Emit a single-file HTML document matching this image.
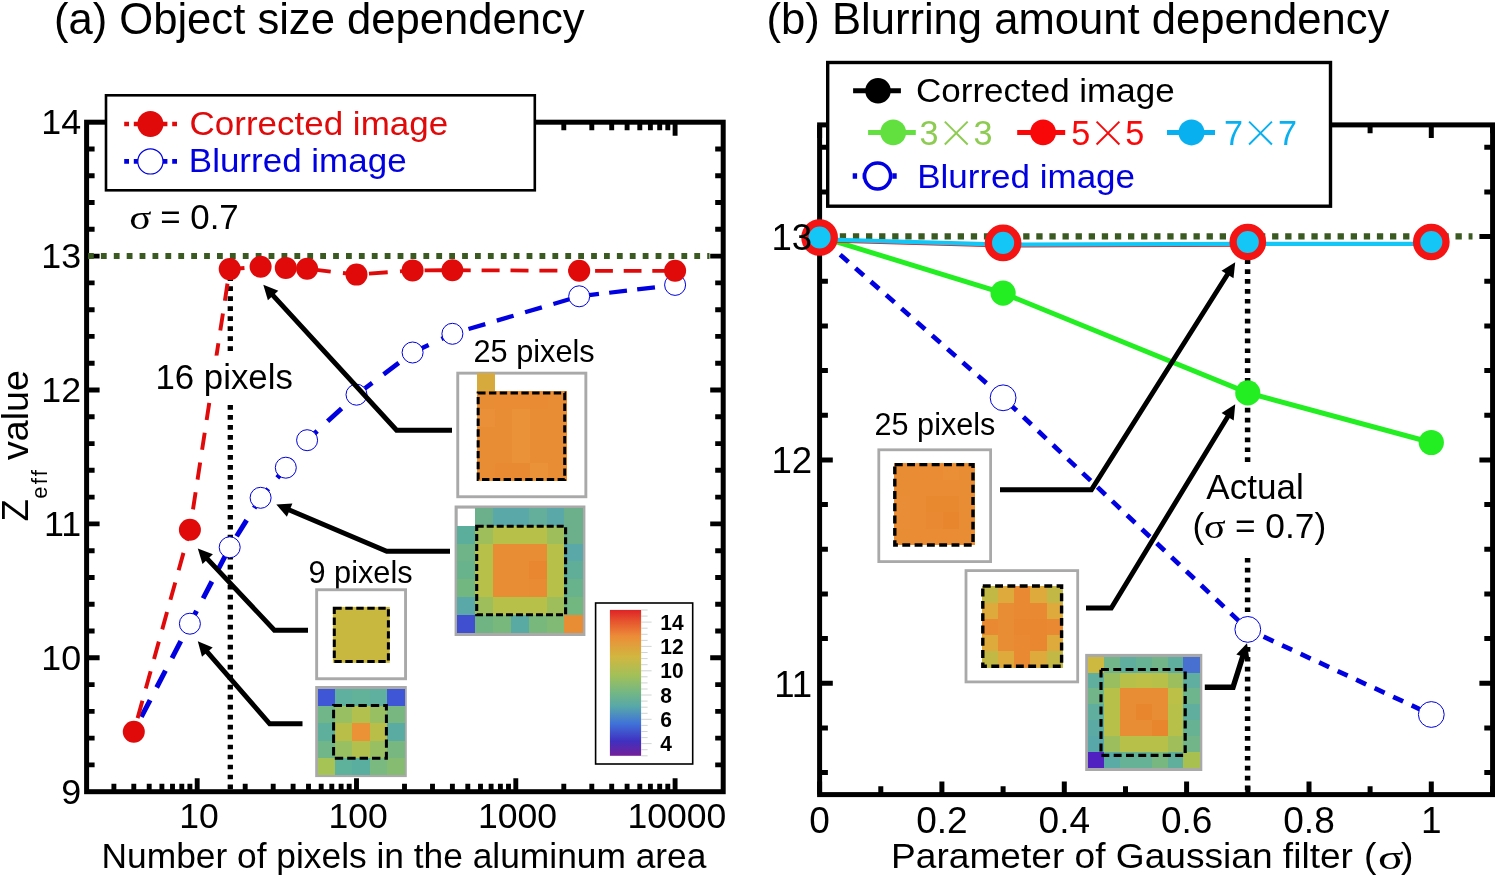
<!DOCTYPE html>
<html lang="en"><head><meta charset="utf-8"><title>Object size and blurring amount dependency</title>
<style>html,body{margin:0;padding:0;background:#fff;}body{width:1495px;height:877px;overflow:hidden;}svg{display:block;font-family:"Liberation Sans", Arial, Helvetica, sans-serif;}</style></head><body>
<svg width="1495" height="877" viewBox="0 0 1495 877">
<rect width="1495" height="877" fill="#fff"/>
<g id="panelA">
<text x="53.9" y="33.6" font-size="43.6" fill="#000" text-anchor="start">(a) Object size dependency</text>
<rect x="86.6" y="122.2" width="636.6" height="669.5" fill="none" stroke="#000" stroke-width="5.0"/>
<path d="M86.6 764.9h8.0 M723.2 764.9h-8.0 M86.6 738.1h8.0 M723.2 738.1h-8.0 M86.6 711.4h8.0 M723.2 711.4h-8.0 M86.6 684.6h8.0 M723.2 684.6h-8.0 M86.6 657.8h13.0 M723.2 657.8h-13.0 M86.6 631.0h8.0 M723.2 631.0h-8.0 M86.6 604.2h8.0 M723.2 604.2h-8.0 M86.6 577.5h8.0 M723.2 577.5h-8.0 M86.6 550.7h8.0 M723.2 550.7h-8.0 M86.6 523.9h13.0 M723.2 523.9h-13.0 M86.6 497.1h8.0 M723.2 497.1h-8.0 M86.6 470.3h8.0 M723.2 470.3h-8.0 M86.6 443.6h8.0 M723.2 443.6h-8.0 M86.6 416.8h8.0 M723.2 416.8h-8.0 M86.6 390.0h13.0 M723.2 390.0h-13.0 M86.6 363.2h8.0 M723.2 363.2h-8.0 M86.6 336.4h8.0 M723.2 336.4h-8.0 M86.6 309.7h8.0 M723.2 309.7h-8.0 M86.6 282.9h8.0 M723.2 282.9h-8.0 M86.6 256.1h13.0 M723.2 256.1h-13.0 M86.6 229.3h8.0 M723.2 229.3h-8.0 M86.6 202.5h8.0 M723.2 202.5h-8.0 M86.6 175.8h8.0 M723.2 175.8h-8.0 M86.6 149.0h8.0 M723.2 149.0h-8.0 M113.9 791.7v-8.0 M113.9 122.2v8.0 M133.8 791.7v-8.0 M133.8 122.2v8.0 M149.2 791.7v-8.0 M149.2 122.2v8.0 M161.9 791.7v-8.0 M161.9 122.2v8.0 M172.5 791.7v-8.0 M172.5 122.2v8.0 M181.8 791.7v-8.0 M181.8 122.2v8.0 M189.9 791.7v-8.0 M189.9 122.2v8.0 M197.2 791.7v-13.5 M197.2 122.2v13.5 M245.2 791.7v-8.0 M245.2 122.2v8.0 M273.2 791.7v-8.0 M273.2 122.2v8.0 M293.1 791.7v-8.0 M293.1 122.2v8.0 M308.5 791.7v-8.0 M308.5 122.2v8.0 M321.2 791.7v-8.0 M321.2 122.2v8.0 M331.8 791.7v-8.0 M331.8 122.2v8.0 M341.1 791.7v-8.0 M341.1 122.2v8.0 M349.2 791.7v-8.0 M349.2 122.2v8.0 M356.5 791.7v-13.5 M356.5 122.2v13.5 M404.5 791.7v-8.0 M404.5 122.2v8.0 M432.5 791.7v-8.0 M432.5 122.2v8.0 M452.4 791.7v-8.0 M452.4 122.2v8.0 M467.8 791.7v-8.0 M467.8 122.2v8.0 M480.5 791.7v-8.0 M480.5 122.2v8.0 M491.1 791.7v-8.0 M491.1 122.2v8.0 M500.4 791.7v-8.0 M500.4 122.2v8.0 M508.5 791.7v-8.0 M508.5 122.2v8.0 M515.8 791.7v-13.5 M515.8 122.2v13.5 M563.8 791.7v-8.0 M563.8 122.2v8.0 M591.8 791.7v-8.0 M591.8 122.2v8.0 M611.7 791.7v-8.0 M611.7 122.2v8.0 M627.1 791.7v-8.0 M627.1 122.2v8.0 M639.8 791.7v-8.0 M639.8 122.2v8.0 M650.4 791.7v-8.0 M650.4 122.2v8.0 M659.7 791.7v-8.0 M659.7 122.2v8.0 M667.8 791.7v-8.0 M667.8 122.2v8.0 M675.1 791.7v-13.5 M675.1 122.2v13.5" stroke="#000" stroke-width="4.9" fill="none"/>
<text x="81.1" y="803.9" font-size="35.8" fill="#000" text-anchor="end">9</text>
<text x="81.1" y="670.0" font-size="35.8" fill="#000" text-anchor="end">10</text>
<text x="81.1" y="536.1" font-size="35.8" fill="#000" text-anchor="end">11</text>
<text x="81.1" y="402.2" font-size="35.8" fill="#000" text-anchor="end">12</text>
<text x="81.1" y="268.3" font-size="35.8" fill="#000" text-anchor="end">13</text>
<text x="81.1" y="134.4" font-size="35.8" fill="#000" text-anchor="end">14</text>
<text x="198.9" y="828.0" font-size="35.5" fill="#000" text-anchor="middle">10</text>
<text x="358.2" y="828.0" font-size="35.5" fill="#000" text-anchor="middle">100</text>
<text x="517.5" y="828.0" font-size="35.5" fill="#000" text-anchor="middle">1000</text>
<text x="676.8" y="828.0" font-size="35.5" fill="#000" text-anchor="middle">10000</text>
<text x="101.6" y="867.9" font-size="35.35" fill="#000" text-anchor="start">Number of pixels in the aluminum area</text>
<text transform="translate(28.0,521.5) rotate(-90)" font-size="36.6">Z<tspan font-size="22" dy="19.3" dx="0.5" letter-spacing="2.2">eff</tspan><tspan dy="-19.3" dx="-2.5" font-size="37.6"> value</tspan></text>
<line x1="88.0" y1="256.1" x2="709.5" y2="256.1" stroke="#3b5a22" stroke-width="6" stroke-dasharray="5.8 7.1"/>
<line x1="230.3" y1="276.3" x2="230.3" y2="351" stroke="#000" stroke-width="5.3" stroke-dasharray="4.7 5.3"/>
<line x1="230.3" y1="405.0" x2="230.3" y2="791.7" stroke="#000" stroke-width="5.3" stroke-dasharray="4.7 5.29"/>
<line x1="133.8" y1="731.4" x2="189.9" y2="623.7" stroke="#0000e0" stroke-width="5.0" stroke-dasharray="19 14.2" stroke-dashoffset="16.9"/>
<line x1="189.9" y1="623.7" x2="229.7" y2="547.3" stroke="#0000e0" stroke-width="5.0" stroke-dasharray="19 14.2" stroke-dashoffset="4.6"/>
<line x1="229.7" y1="547.3" x2="260.6" y2="497.8" stroke="#0000e0" stroke-width="5.0" stroke-dasharray="19 14.2" stroke-dashoffset="20.2"/>
<line x1="260.6" y1="497.8" x2="285.8" y2="467.7" stroke="#0000e0" stroke-width="5.0" stroke-dasharray="19 14.2" stroke-dashoffset="7.2"/>
<line x1="285.8" y1="467.7" x2="307.1" y2="440.2" stroke="#0000e0" stroke-width="5.0" stroke-dasharray="19 14.2" stroke-dashoffset="8.2"/>
<line x1="307.1" y1="440.2" x2="356.5" y2="394.7" stroke="#0000e0" stroke-width="4.8" stroke-dasharray="19 14.2" stroke-dashoffset="5.3"/>
<line x1="356.5" y1="394.7" x2="412.6" y2="352.5" stroke="#0000e0" stroke-width="4.6" stroke-dasharray="19 14.2" stroke-dashoffset="32.5"/>
<line x1="412.6" y1="352.5" x2="452.4" y2="333.8" stroke="#0000e0" stroke-width="4.4" stroke-dasharray="19 14.2" stroke-dashoffset="1.3"/>
<line x1="452.4" y1="333.8" x2="579.2" y2="296.3" stroke="#0000e0" stroke-width="4.3" stroke-dasharray="17.5 12.0" stroke-dashoffset="12.7"/>
<line x1="579.2" y1="296.3" x2="675.1" y2="284.9" stroke="#0000e0" stroke-width="4.2" stroke-dasharray="17.9 10.3" stroke-dashoffset="26.2"/>
<line x1="133.8" y1="731.8" x2="189.9" y2="529.7" stroke="#e00a0a" stroke-width="3.9" stroke-dasharray="18 12.7" stroke-dashoffset="16.5"/>
<line x1="189.9" y1="529.7" x2="229.7" y2="269.1" stroke="#e00a0a" stroke-width="3.9" stroke-dasharray="17.3 12.85" stroke-dashoffset="9.6"/>
<line x1="229.7" y1="269.1" x2="260.6" y2="266.7" stroke="#e00a0a" stroke-width="3.9" stroke-dasharray="18.8 12.3" stroke-dashoffset="4.0"/>
<line x1="260.6" y1="266.7" x2="285.8" y2="267.9" stroke="#e00a0a" stroke-width="3.9" stroke-dasharray="18.8 12.3" stroke-dashoffset="16.1"/>
<line x1="285.8" y1="267.9" x2="307.1" y2="268.8" stroke="#e00a0a" stroke-width="3.9" stroke-dasharray="18.8 12.3" stroke-dashoffset="16.1"/>
<line x1="307.1" y1="268.8" x2="356.5" y2="274.6" stroke="#e00a0a" stroke-width="3.9" stroke-dasharray="18.8 12.3" stroke-dashoffset="26.1"/>
<line x1="356.5" y1="274.6" x2="412.6" y2="270.4" stroke="#e00a0a" stroke-width="3.9" stroke-dasharray="18.8 12.3" stroke-dashoffset="18.6"/>
<line x1="412.6" y1="270.4" x2="452.4" y2="270.2" stroke="#e00a0a" stroke-width="3.9" stroke-dasharray="18.8 12.3" stroke-dashoffset="19.1"/>
<line x1="452.4" y1="270.2" x2="579.2" y2="270.8" stroke="#e00a0a" stroke-width="3.7" stroke-dasharray="18 10.9" stroke-dashoffset="28.6"/>
<line x1="579.2" y1="270.8" x2="675.1" y2="270.8" stroke="#e00a0a" stroke-width="3.7" stroke-dasharray="17.8 10.8" stroke-dashoffset="12.7"/>
<rect x="152" y="355.6" width="146" height="46.6" fill="#fff"/>
<circle cx="189.9" cy="623.7" r="10.5" fill="#fff" stroke="#0000e0" stroke-width="1.0"/>
<circle cx="229.7" cy="547.3" r="10.5" fill="#fff" stroke="#0000e0" stroke-width="1.0"/>
<circle cx="260.6" cy="497.8" r="10.5" fill="#fff" stroke="#0000e0" stroke-width="1.0"/>
<circle cx="285.8" cy="467.7" r="10.5" fill="#fff" stroke="#0000e0" stroke-width="1.0"/>
<circle cx="307.1" cy="440.2" r="10.5" fill="#fff" stroke="#0000e0" stroke-width="1.0"/>
<circle cx="356.5" cy="394.7" r="10.5" fill="#fff" stroke="#0000e0" stroke-width="1.0"/>
<circle cx="412.6" cy="352.5" r="10.5" fill="#fff" stroke="#0000e0" stroke-width="1.0"/>
<circle cx="452.4" cy="333.8" r="10.5" fill="#fff" stroke="#0000e0" stroke-width="1.0"/>
<circle cx="579.2" cy="296.3" r="10.5" fill="#fff" stroke="#0000e0" stroke-width="1.0"/>
<circle cx="675.1" cy="284.9" r="10.5" fill="#fff" stroke="#0000e0" stroke-width="1.0"/>
<circle cx="133.8" cy="731.8" r="11.0" fill="#e00a0a"/>
<circle cx="189.9" cy="529.7" r="11.0" fill="#e00a0a"/>
<circle cx="229.7" cy="269.1" r="11.0" fill="#e00a0a"/>
<circle cx="260.6" cy="266.7" r="11.0" fill="#e00a0a"/>
<circle cx="285.8" cy="267.9" r="11.0" fill="#e00a0a"/>
<circle cx="307.1" cy="268.8" r="11.0" fill="#e00a0a"/>
<circle cx="356.5" cy="274.6" r="11.0" fill="#e00a0a"/>
<circle cx="412.6" cy="270.4" r="11.0" fill="#e00a0a"/>
<circle cx="452.4" cy="270.2" r="11.0" fill="#e00a0a"/>
<circle cx="579.2" cy="270.8" r="11.0" fill="#e00a0a"/>
<circle cx="675.1" cy="270.8" r="11.0" fill="#e00a0a"/>
<rect x="106" y="95.3" width="428.8" height="95" fill="#fff" stroke="#000" stroke-width="2.6"/>
<line x1="124.2" y1="124" x2="177" y2="124" stroke="#e00a0a" stroke-width="4.6" stroke-dasharray="4.8 4.8"/>
<circle cx="150.4" cy="124" r="13" fill="#e00a0a"/>
<line x1="124.2" y1="161.4" x2="177" y2="161.4" stroke="#0000e0" stroke-width="4.6" stroke-dasharray="4.8 4.8"/>
<circle cx="150.4" cy="161.4" r="12.6" fill="#fff" stroke="#0000e0" stroke-width="1.2"/>
<text transform="translate(189.5,134.9) scale(1.06,1)" font-size="33.02" fill="#e00a0a" text-anchor="start">Corrected image</text>
<text transform="translate(188.8,172.4) scale(1.06,1)" font-size="33.02" fill="#0000e0" text-anchor="start">Blurred image</text>
<text transform="translate(129.14,228.90) scale(1.263,1)" font-family='"Liberation Serif", "Times New Roman", serif' font-size="32.8">σ</text>
<text x="160.2" y="228.7" font-size="34.9" fill="#000" text-anchor="start">= 0.7</text>
<text x="155.5" y="388.5" font-size="34.8" fill="#000" text-anchor="start">16 pixels</text>
<text x="473.5" y="361.7" font-size="30.7" fill="#000" text-anchor="start">25 pixels</text>
<text x="308.5" y="583.0" font-size="30.7" fill="#000" text-anchor="start">9 pixels</text>
<polyline fill="none" stroke="#000" stroke-width="4.9" stroke-linejoin="miter" points="452.0,430.2 396.6,430.2 271.1,293.4"/>
<polygon fill="#000" points="263.3,284.8 278.3,290.7 267.9,300.3"/>
<polyline fill="none" stroke="#000" stroke-width="4.9" stroke-linejoin="miter" points="450.0,551.2 386.7,551.2 287.0,509.0"/>
<polygon fill="#000" points="276.3,504.5 292.4,503.6 286.9,516.7"/>
<polyline fill="none" stroke="#000" stroke-width="4.9" stroke-linejoin="miter" points="308.0,630.2 274.4,630.2 205.7,557.1"/>
<polygon fill="#000" points="197.8,548.6 212.9,554.3 202.5,564.0"/>
<polyline fill="none" stroke="#000" stroke-width="4.9" stroke-linejoin="miter" points="302.5,723.8 269.7,723.8 205.4,649.9"/>
<polygon fill="#000" points="197.8,641.2 212.7,647.5 202.0,656.8"/>
<rect x="457.75" y="373.15" width="128.10" height="123.60" fill="#fff" stroke="#a9a9a9" stroke-width="2.9"/>
<rect x="476.55" y="373.40" width="18.25" height="18.25" fill="#d6aa3c" shape-rendering="crispEdges"/>
<rect x="476.55" y="391.35" width="18.25" height="18.25" fill="#e98d35" shape-rendering="crispEdges"/>
<rect x="494.50" y="391.35" width="18.25" height="18.25" fill="#e98c33" shape-rendering="crispEdges"/>
<rect x="512.45" y="391.35" width="18.25" height="18.25" fill="#e98c33" shape-rendering="crispEdges"/>
<rect x="530.40" y="391.35" width="18.25" height="18.25" fill="#e88b33" shape-rendering="crispEdges"/>
<rect x="548.35" y="391.35" width="18.25" height="18.25" fill="#e98d35" shape-rendering="crispEdges"/>
<rect x="476.55" y="409.30" width="18.25" height="18.25" fill="#e99038" shape-rendering="crispEdges"/>
<rect x="494.50" y="409.30" width="18.25" height="18.25" fill="#e98d35" shape-rendering="crispEdges"/>
<rect x="512.45" y="409.30" width="18.25" height="18.25" fill="#ea9238" shape-rendering="crispEdges"/>
<rect x="530.40" y="409.30" width="18.25" height="18.25" fill="#e98d35" shape-rendering="crispEdges"/>
<rect x="548.35" y="409.30" width="18.25" height="18.25" fill="#e98d35" shape-rendering="crispEdges"/>
<rect x="476.55" y="427.25" width="18.25" height="18.25" fill="#e98d35" shape-rendering="crispEdges"/>
<rect x="494.50" y="427.25" width="18.25" height="18.25" fill="#e98d35" shape-rendering="crispEdges"/>
<rect x="512.45" y="427.25" width="18.25" height="18.25" fill="#ea9238" shape-rendering="crispEdges"/>
<rect x="530.40" y="427.25" width="18.25" height="18.25" fill="#e98d35" shape-rendering="crispEdges"/>
<rect x="548.35" y="427.25" width="18.25" height="18.25" fill="#e98d35" shape-rendering="crispEdges"/>
<rect x="476.55" y="445.20" width="18.25" height="18.25" fill="#e98d35" shape-rendering="crispEdges"/>
<rect x="494.50" y="445.20" width="18.25" height="18.25" fill="#e98d35" shape-rendering="crispEdges"/>
<rect x="512.45" y="445.20" width="18.25" height="18.25" fill="#ea9238" shape-rendering="crispEdges"/>
<rect x="530.40" y="445.20" width="18.25" height="18.25" fill="#e98d35" shape-rendering="crispEdges"/>
<rect x="548.35" y="445.20" width="18.25" height="18.25" fill="#e98d35" shape-rendering="crispEdges"/>
<rect x="476.55" y="463.15" width="18.25" height="18.25" fill="#e98d35" shape-rendering="crispEdges"/>
<rect x="494.50" y="463.15" width="18.25" height="18.25" fill="#e88a32" shape-rendering="crispEdges"/>
<rect x="512.45" y="463.15" width="18.25" height="18.25" fill="#e88a32" shape-rendering="crispEdges"/>
<rect x="530.40" y="463.15" width="18.25" height="18.25" fill="#ea9238" shape-rendering="crispEdges"/>
<rect x="548.35" y="463.15" width="18.25" height="18.25" fill="#e98d35" shape-rendering="crispEdges"/>
<rect x="478.15" y="392.95" width="86.55" height="86.55" fill="none" stroke="#000" stroke-width="3.0" stroke-dasharray="7.4 3.4"/>
<rect x="456.15" y="507.05" width="127.70" height="127.40" fill="#fff" stroke="#a9a9a9" stroke-width="3.1"/>
<rect x="474.90" y="507.70" width="18.20" height="18.20" fill="#6bb08a" shape-rendering="crispEdges"/>
<rect x="492.80" y="507.70" width="18.20" height="18.20" fill="#5aa8a8" shape-rendering="crispEdges"/>
<rect x="510.70" y="507.70" width="18.20" height="18.20" fill="#5aa8a8" shape-rendering="crispEdges"/>
<rect x="528.60" y="507.70" width="18.20" height="18.20" fill="#64ae9c" shape-rendering="crispEdges"/>
<rect x="546.50" y="507.70" width="18.20" height="18.20" fill="#5aa8a8" shape-rendering="crispEdges"/>
<rect x="564.40" y="507.70" width="18.20" height="18.20" fill="#6bb08a" shape-rendering="crispEdges"/>
<rect x="457.00" y="525.60" width="18.20" height="18.20" fill="#5cae9c" shape-rendering="crispEdges"/>
<rect x="474.90" y="525.60" width="18.20" height="18.20" fill="#9dbe5a" shape-rendering="crispEdges"/>
<rect x="492.80" y="525.60" width="18.20" height="18.20" fill="#b7c048" shape-rendering="crispEdges"/>
<rect x="510.70" y="525.60" width="18.20" height="18.20" fill="#b7c048" shape-rendering="crispEdges"/>
<rect x="528.60" y="525.60" width="18.20" height="18.20" fill="#b7c048" shape-rendering="crispEdges"/>
<rect x="546.50" y="525.60" width="18.20" height="18.20" fill="#9dbe5a" shape-rendering="crispEdges"/>
<rect x="564.40" y="525.60" width="18.20" height="18.20" fill="#6bb08a" shape-rendering="crispEdges"/>
<rect x="457.00" y="543.50" width="18.20" height="18.20" fill="#6eb488" shape-rendering="crispEdges"/>
<rect x="474.90" y="543.50" width="18.20" height="18.20" fill="#b7c048" shape-rendering="crispEdges"/>
<rect x="492.80" y="543.50" width="18.20" height="18.20" fill="#e98d35" shape-rendering="crispEdges"/>
<rect x="510.70" y="543.50" width="18.20" height="18.20" fill="#e98d35" shape-rendering="crispEdges"/>
<rect x="528.60" y="543.50" width="18.20" height="18.20" fill="#e98d35" shape-rendering="crispEdges"/>
<rect x="546.50" y="543.50" width="18.20" height="18.20" fill="#b7c048" shape-rendering="crispEdges"/>
<rect x="564.40" y="543.50" width="18.20" height="18.20" fill="#5aa8a8" shape-rendering="crispEdges"/>
<rect x="457.00" y="561.40" width="18.20" height="18.20" fill="#68b28c" shape-rendering="crispEdges"/>
<rect x="474.90" y="561.40" width="18.20" height="18.20" fill="#b7c048" shape-rendering="crispEdges"/>
<rect x="492.80" y="561.40" width="18.20" height="18.20" fill="#e98d35" shape-rendering="crispEdges"/>
<rect x="510.70" y="561.40" width="18.20" height="18.20" fill="#e98d35" shape-rendering="crispEdges"/>
<rect x="528.60" y="561.40" width="18.20" height="18.20" fill="#e8872f" shape-rendering="crispEdges"/>
<rect x="546.50" y="561.40" width="18.20" height="18.20" fill="#b7c048" shape-rendering="crispEdges"/>
<rect x="564.40" y="561.40" width="18.20" height="18.20" fill="#60ae98" shape-rendering="crispEdges"/>
<rect x="457.00" y="579.30" width="18.20" height="18.20" fill="#72b680" shape-rendering="crispEdges"/>
<rect x="474.90" y="579.30" width="18.20" height="18.20" fill="#b7c048" shape-rendering="crispEdges"/>
<rect x="492.80" y="579.30" width="18.20" height="18.20" fill="#e98d35" shape-rendering="crispEdges"/>
<rect x="510.70" y="579.30" width="18.20" height="18.20" fill="#e98d35" shape-rendering="crispEdges"/>
<rect x="528.60" y="579.30" width="18.20" height="18.20" fill="#e98b33" shape-rendering="crispEdges"/>
<rect x="546.50" y="579.30" width="18.20" height="18.20" fill="#b7c048" shape-rendering="crispEdges"/>
<rect x="564.40" y="579.30" width="18.20" height="18.20" fill="#68b28c" shape-rendering="crispEdges"/>
<rect x="457.00" y="597.20" width="18.20" height="18.20" fill="#5aa8a8" shape-rendering="crispEdges"/>
<rect x="474.90" y="597.20" width="18.20" height="18.20" fill="#9dbe5a" shape-rendering="crispEdges"/>
<rect x="492.80" y="597.20" width="18.20" height="18.20" fill="#b7c048" shape-rendering="crispEdges"/>
<rect x="510.70" y="597.20" width="18.20" height="18.20" fill="#b7c048" shape-rendering="crispEdges"/>
<rect x="528.60" y="597.20" width="18.20" height="18.20" fill="#b7c048" shape-rendering="crispEdges"/>
<rect x="546.50" y="597.20" width="18.20" height="18.20" fill="#9dbe5a" shape-rendering="crispEdges"/>
<rect x="564.40" y="597.20" width="18.20" height="18.20" fill="#72b680" shape-rendering="crispEdges"/>
<rect x="457.00" y="615.10" width="18.20" height="18.20" fill="#3f4fd0" shape-rendering="crispEdges"/>
<rect x="474.90" y="615.10" width="18.20" height="18.20" fill="#70b484" shape-rendering="crispEdges"/>
<rect x="492.80" y="615.10" width="18.20" height="18.20" fill="#78b87c" shape-rendering="crispEdges"/>
<rect x="510.70" y="615.10" width="18.20" height="18.20" fill="#5aaaa4" shape-rendering="crispEdges"/>
<rect x="528.60" y="615.10" width="18.20" height="18.20" fill="#78b87c" shape-rendering="crispEdges"/>
<rect x="546.50" y="615.10" width="18.20" height="18.20" fill="#80ba74" shape-rendering="crispEdges"/>
<rect x="564.40" y="615.10" width="18.20" height="18.20" fill="#e98d35" shape-rendering="crispEdges"/>
<rect x="476.70" y="526.20" width="88.90" height="88.50" fill="none" stroke="#000" stroke-width="3.1" stroke-dasharray="7 3"/>
<rect x="316.65" y="589.75" width="88.90" height="89.00" fill="#fff" stroke="#a9a9a9" stroke-width="2.9"/>
<rect x="332.9" y="606.9" width="56.9" height="56" fill="#c8b840"/>
<rect x="334.30" y="608.30" width="54.10" height="53.20" fill="none" stroke="#000" stroke-width="3.0" stroke-dasharray="7.4 3.6"/>
<rect x="316.75" y="687.55" width="88.50" height="88.00" fill="#fff" stroke="#a9a9a9" stroke-width="3.1"/>
<rect x="317.80" y="688.60" width="17.60" height="17.60" fill="#3f57d6" shape-rendering="crispEdges"/>
<rect x="335.10" y="688.60" width="17.60" height="17.60" fill="#5fb09e" shape-rendering="crispEdges"/>
<rect x="352.40" y="688.60" width="17.60" height="17.60" fill="#62b29a" shape-rendering="crispEdges"/>
<rect x="369.70" y="688.60" width="17.60" height="17.60" fill="#5fb09e" shape-rendering="crispEdges"/>
<rect x="387.00" y="688.60" width="17.60" height="17.60" fill="#3f57d6" shape-rendering="crispEdges"/>
<rect x="317.80" y="705.90" width="17.60" height="17.60" fill="#70b688" shape-rendering="crispEdges"/>
<rect x="335.10" y="705.90" width="17.60" height="17.60" fill="#98c062" shape-rendering="crispEdges"/>
<rect x="352.40" y="705.90" width="17.60" height="17.60" fill="#b2c04e" shape-rendering="crispEdges"/>
<rect x="369.70" y="705.90" width="17.60" height="17.60" fill="#98c062" shape-rendering="crispEdges"/>
<rect x="387.00" y="705.90" width="17.60" height="17.60" fill="#78b880" shape-rendering="crispEdges"/>
<rect x="317.80" y="723.20" width="17.60" height="17.60" fill="#5eb09c" shape-rendering="crispEdges"/>
<rect x="335.10" y="723.20" width="17.60" height="17.60" fill="#b8be48" shape-rendering="crispEdges"/>
<rect x="352.40" y="723.20" width="17.60" height="17.60" fill="#ec9236" shape-rendering="crispEdges"/>
<rect x="369.70" y="723.20" width="17.60" height="17.60" fill="#b8be48" shape-rendering="crispEdges"/>
<rect x="387.00" y="723.20" width="17.60" height="17.60" fill="#5aaca2" shape-rendering="crispEdges"/>
<rect x="317.80" y="740.50" width="17.60" height="17.60" fill="#70b688" shape-rendering="crispEdges"/>
<rect x="335.10" y="740.50" width="17.60" height="17.60" fill="#98c062" shape-rendering="crispEdges"/>
<rect x="352.40" y="740.50" width="17.60" height="17.60" fill="#b2c04e" shape-rendering="crispEdges"/>
<rect x="369.70" y="740.50" width="17.60" height="17.60" fill="#98c062" shape-rendering="crispEdges"/>
<rect x="387.00" y="740.50" width="17.60" height="17.60" fill="#78b880" shape-rendering="crispEdges"/>
<rect x="317.80" y="757.80" width="17.60" height="17.60" fill="#a6c456" shape-rendering="crispEdges"/>
<rect x="335.10" y="757.80" width="17.60" height="17.60" fill="#5eb29c" shape-rendering="crispEdges"/>
<rect x="352.40" y="757.80" width="17.60" height="17.60" fill="#5aaea0" shape-rendering="crispEdges"/>
<rect x="369.70" y="757.80" width="17.60" height="17.60" fill="#7aba80" shape-rendering="crispEdges"/>
<rect x="387.00" y="757.80" width="17.60" height="17.60" fill="#86bc72" shape-rendering="crispEdges"/>
<rect x="333.60" y="705.40" width="52.80" height="52.80" fill="none" stroke="#000" stroke-width="3.0" stroke-dasharray="8.4 4"/>
<defs><linearGradient id="cb" x1="0" y1="0" x2="0" y2="1"><stop offset="0" stop-color="#df2326"/><stop offset="0.08" stop-color="#e6552e"/><stop offset="0.18" stop-color="#ec8c38"/><stop offset="0.32" stop-color="#d2b640"/><stop offset="0.45" stop-color="#a2c058"/><stop offset="0.57" stop-color="#72b686"/><stop offset="0.66" stop-color="#58a8a8"/><stop offset="0.78" stop-color="#4072d8"/><stop offset="0.90" stop-color="#4030c0"/><stop offset="1" stop-color="#74209a"/></linearGradient></defs>
<rect x="595.6" y="603" width="97.1" height="161" fill="#fff" stroke="#000" stroke-width="1.6"/>
<rect x="609.9" y="609.9" width="31.2" height="145.9" fill="url(#cb)"/>
<path d="M641.1 755.8h6.5 M641.1 749.7h6.5 M641.1 743.6h10.5 M641.1 737.6h6.5 M641.1 731.5h6.5 M641.1 725.4h6.5 M641.1 719.3h10.5 M641.1 713.3h6.5 M641.1 707.2h6.5 M641.1 701.1h6.5 M641.1 695.0h10.5 M641.1 689.0h6.5 M641.1 682.9h6.5 M641.1 676.8h6.5 M641.1 670.8h10.5 M641.1 664.7h6.5 M641.1 658.6h6.5 M641.1 652.5h6.5 M641.1 646.4h10.5 M641.1 640.4h6.5 M641.1 634.3h6.5 M641.1 628.2h6.5 M641.1 622.1h10.5 M641.1 616.1h6.5 M641.1 610.0h6.5" stroke="#c4c8c8" stroke-width="0.8" fill="none"/>
<text transform="translate(660.3,629.9) scale(0.945,1)" font-size="22.2" font-weight="bold">14</text>
<text transform="translate(660.3,654.1) scale(0.945,1)" font-size="22.2" font-weight="bold">12</text>
<text transform="translate(660.3,678.4) scale(0.945,1)" font-size="22.2" font-weight="bold">10</text>
<text transform="translate(660.3,702.6) scale(0.945,1)" font-size="22.2" font-weight="bold">8</text>
<text transform="translate(660.3,726.9) scale(0.945,1)" font-size="22.2" font-weight="bold">6</text>
<text transform="translate(660.3,751.1) scale(0.945,1)" font-size="22.2" font-weight="bold">4</text>
</g>
<g id="panelB">
<text x="766.5" y="33.6" font-size="43.6" fill="#000" text-anchor="start">(b) Blurring amount dependency</text>
<rect x="819.6" y="124.9" width="673.0" height="669.7" fill="none" stroke="#000" stroke-width="5.0"/>
<path d="M819.6 772.5h8.3 M1492.6 772.5h-8.3 M819.6 727.9h8.3 M1492.6 727.9h-8.3 M819.6 683.2h13.2 M1492.6 683.2h-13.2 M819.6 638.5h8.3 M1492.6 638.5h-8.3 M819.6 593.9h8.3 M1492.6 593.9h-8.3 M819.6 549.2h8.3 M1492.6 549.2h-8.3 M819.6 504.6h8.3 M1492.6 504.6h-8.3 M819.6 459.9h13.2 M1492.6 459.9h-13.2 M819.6 415.2h8.3 M1492.6 415.2h-8.3 M819.6 370.6h8.3 M1492.6 370.6h-8.3 M819.6 325.9h8.3 M1492.6 325.9h-8.3 M819.6 281.3h8.3 M1492.6 281.3h-8.3 M819.6 236.6h13.2 M1492.6 236.6h-13.2 M819.6 191.9h8.3 M1492.6 191.9h-8.3 M819.6 147.3h8.3 M1492.6 147.3h-8.3 M819.6 794.6v-13.2 M819.6 124.9v13.2 M880.8 794.6v-8.3 M880.8 124.9v8.3 M941.9 794.6v-13.2 M941.9 124.9v13.2 M1003.1 794.6v-8.3 M1003.1 124.9v8.3 M1064.3 794.6v-13.2 M1064.3 124.9v13.2 M1125.5 794.6v-8.3 M1125.5 124.9v8.3 M1186.6 794.6v-13.2 M1186.6 124.9v13.2 M1247.8 794.6v-8.3 M1247.8 124.9v8.3 M1309.0 794.6v-13.2 M1309.0 124.9v13.2 M1370.1 794.6v-8.3 M1370.1 124.9v8.3 M1431.3 794.6v-13.2 M1431.3 124.9v13.2 M1492.5 794.6v-8.3 M1492.5 124.9v8.3" stroke="#000" stroke-width="5.0" fill="none"/>
<text x="812.2" y="696.5" font-size="36.6" fill="#000" text-anchor="end">11</text>
<text x="812.2" y="473.2" font-size="36.6" fill="#000" text-anchor="end">12</text>
<text x="819.6" y="832.6" font-size="37" fill="#000" text-anchor="middle">0</text>
<text x="941.9" y="832.6" font-size="37" fill="#000" text-anchor="middle">0.2</text>
<text x="1064.3" y="832.6" font-size="37" fill="#000" text-anchor="middle">0.4</text>
<text x="1186.6" y="832.6" font-size="37" fill="#000" text-anchor="middle">0.6</text>
<text x="1309.0" y="832.6" font-size="37" fill="#000" text-anchor="middle">0.8</text>
<text x="1431.3" y="832.6" font-size="37" fill="#000" text-anchor="middle">1</text>
<text transform="translate(891.1,868.3) scale(1.055,1)" font-size="35.17" fill="#000" text-anchor="start">Parameter of Gaussian filter</text>
<text transform="translate(1364.0,868.3) scale(1.055,1)" font-size="35.45" fill="#000" text-anchor="start">(</text>
<text transform="translate(1378.10,868.70) scale(1.422,1)" font-family='"Liberation Serif", "Times New Roman", serif' font-size="33.4">σ</text>
<text transform="translate(1401.0,868.3) scale(1.055,1)" font-size="35.45" fill="#000" text-anchor="start">)</text>
<line x1="826.7" y1="236.4" x2="1472.5" y2="236.4" stroke="#3b5a22" stroke-width="6.2" stroke-dasharray="6.3 6.8"/>
<line x1="1247.6" y1="259.3" x2="1247.6" y2="462.2" stroke="#000" stroke-width="5.5" stroke-dasharray="4.7 5.2"/>
<line x1="1247.6" y1="557.9" x2="1247.6" y2="794.6" stroke="#000" stroke-width="5.5" stroke-dasharray="4.7 5.2"/>
<polyline points="819.6,236.6 1003.1,397.8 1247.8,629.4 1431.3,714.5" fill="none" stroke="#0000e0" stroke-width="4.7" stroke-dasharray="11 9.4" stroke-dashoffset="-7"/>
<polyline points="819.6,236.6 1003.1,293.1 1247.8,392.9 1431.3,442.5" fill="none" stroke="#22ee22" stroke-width="5.0"/>
<polyline points="819.6,237.5 1003.1,242.9 1247.8,242.0" fill="none" stroke="#f01414" stroke-width="4.0" transform="translate(0,2.7)"/>
<polyline points="819.6,237.5 1003.1,242.9 1247.8,242.0 1431.3,242.0" fill="none" stroke="#14c6f5" stroke-width="4.3" transform="translate(0,1.8)"/>
<circle cx="1003.1" cy="397.8" r="12.9" fill="#fff" stroke="#0000e0" stroke-width="1.0"/>
<circle cx="1247.8" cy="629.4" r="12.9" fill="#fff" stroke="#0000e0" stroke-width="1.0"/>
<circle cx="1431.3" cy="714.5" r="12.9" fill="#fff" stroke="#0000e0" stroke-width="1.0"/>
<circle cx="1003.1" cy="293.1" r="12.6" fill="#22ee22"/>
<circle cx="1247.8" cy="392.9" r="12.6" fill="#22ee22"/>
<circle cx="1431.3" cy="442.5" r="12.6" fill="#22ee22"/>
<polyline fill="none" stroke="#000" stroke-width="4.9" stroke-linejoin="miter" points="1000.0,489.8 1091.4,489.8 1229.0,272.0"/>
<polygon fill="#000" points="1235.2,262.2 1233.5,278.3 1221.5,270.7"/>
<polyline fill="none" stroke="#000" stroke-width="4.9" stroke-linejoin="miter" points="1086.0,608.0 1111.3,608.0 1229.2,414.2"/>
<polygon fill="#000" points="1235.2,404.3 1233.7,420.4 1221.6,413.0"/>
<polyline fill="none" stroke="#000" stroke-width="5.4" stroke-linejoin="miter" points="1204.8,687.2 1233.0,687.2 1243.6,653.9"/>
<polygon fill="#000" points="1247.0,643.2 1249.2,658.6 1236.3,654.5"/>
<circle cx="819.6" cy="237.5" r="14.7" fill="#14c6f5" stroke="#f51414" stroke-width="7.3"/>
<circle cx="1003.1" cy="242.9" r="14.7" fill="#14c6f5" stroke="#f51414" stroke-width="7.3"/>
<circle cx="1247.8" cy="242.0" r="14.7" fill="#14c6f5" stroke="#f51414" stroke-width="7.3"/>
<circle cx="1431.3" cy="242.0" r="14.7" fill="#14c6f5" stroke="#f51414" stroke-width="7.3"/>
<text x="812.2" y="250.1" font-size="36.6" fill="#000" text-anchor="end">13</text>
<rect x="827.7" y="62.5" width="502.8" height="143.7" fill="#fff" stroke="#000" stroke-width="3.4"/>
<line x1="853.1" y1="90.7" x2="900.9" y2="90.7" stroke="#000" stroke-width="5"/><circle cx="878" cy="90.7" r="12.8" fill="#000"/>
<text transform="translate(916.0,101.6) scale(1.065,1)" font-size="32.86" fill="#000" text-anchor="start">Corrected image</text>
<line x1="868.1" y1="132.4" x2="915.8" y2="132.4" stroke="#62e040" stroke-width="5"/><circle cx="893.2" cy="132.4" r="12.9" fill="#62e040"/>
<text x="919.5" y="144.6" font-size="34.2" fill="#8ecb52">3<tspan font-family='"Noto Sans CJK JP", IPAGothic, sans-serif' font-weight="300" font-size="38" dx="-1.3" dy="2.2">×</tspan><tspan dx="-1.7" dy="-2.2">3</tspan></text>
<line x1="1017.2" y1="132.4" x2="1065.2" y2="132.4" stroke="#f80808" stroke-width="5"/><circle cx="1043.1" cy="132.4" r="12.9" fill="#f80808"/>
<text x="1071.3" y="144.6" font-size="34.2" fill="#f80808">5<tspan font-family='"Noto Sans CJK JP", IPAGothic, sans-serif' font-weight="300" font-size="38" dx="-1.3" dy="2.2">×</tspan><tspan dx="-1.7" dy="-2.2">5</tspan></text>
<line x1="1167" y1="132.4" x2="1215" y2="132.4" stroke="#08b0f0" stroke-width="5"/><circle cx="1191.5" cy="132.4" r="13" fill="#08b0f0"/>
<text x="1223.9" y="144.6" font-size="34.2" fill="#08b0f0">7<tspan font-family='"Noto Sans CJK JP", IPAGothic, sans-serif' font-weight="300" font-size="38" dx="-1.3" dy="2.2">×</tspan><tspan dx="-1.7" dy="-2.2">7</tspan></text>
<line x1="852.7" y1="176" x2="896.8" y2="176" stroke="#0000e0" stroke-width="5.4" stroke-dasharray="4.4 5.5"/>
<circle cx="877.6" cy="176" r="13.0" fill="#fff" stroke="#0000e0" stroke-width="3.5"/>
<text transform="translate(917.2,187.5) scale(1.065,1)" font-size="32.86" fill="#0000e0" text-anchor="start">Blurred image</text>
<text x="874.6" y="435.0" font-size="30.6" fill="#000" text-anchor="start">25 pixels</text>
<text x="1206.3" y="499.0" font-size="35.1" fill="#000" text-anchor="start">Actual</text>
<text x="1192.4" y="537.9" font-size="35.2" fill="#000" text-anchor="start">(</text>
<text transform="translate(1203.67,538.20) scale(1.244,1)" font-family='"Liberation Serif", "Times New Roman", serif' font-size="32.8">σ</text>
<text x="1234.9" y="537.9" font-size="35.3" fill="#000" text-anchor="start">= 0.7)</text>
<rect x="878.80" y="449.80" width="111.80" height="111.80" fill="#fff" stroke="#a9a9a9" stroke-width="2.8"/>
<rect x="893.60" y="463.40" width="16.60" height="16.60" fill="#e98d35" shape-rendering="crispEdges"/>
<rect x="909.90" y="463.40" width="16.60" height="16.60" fill="#e98c33" shape-rendering="crispEdges"/>
<rect x="926.20" y="463.40" width="16.60" height="16.60" fill="#e98c33" shape-rendering="crispEdges"/>
<rect x="942.50" y="463.40" width="16.60" height="16.60" fill="#ea8f36" shape-rendering="crispEdges"/>
<rect x="958.80" y="463.40" width="16.60" height="16.60" fill="#e98d35" shape-rendering="crispEdges"/>
<rect x="893.60" y="479.70" width="16.60" height="16.60" fill="#e98d35" shape-rendering="crispEdges"/>
<rect x="909.90" y="479.70" width="16.60" height="16.60" fill="#e98c33" shape-rendering="crispEdges"/>
<rect x="926.20" y="479.70" width="16.60" height="16.60" fill="#e98c33" shape-rendering="crispEdges"/>
<rect x="942.50" y="479.70" width="16.60" height="16.60" fill="#e98c33" shape-rendering="crispEdges"/>
<rect x="958.80" y="479.70" width="16.60" height="16.60" fill="#e98d35" shape-rendering="crispEdges"/>
<rect x="893.60" y="496.00" width="16.60" height="16.60" fill="#e98e36" shape-rendering="crispEdges"/>
<rect x="909.90" y="496.00" width="16.60" height="16.60" fill="#e98c33" shape-rendering="crispEdges"/>
<rect x="926.20" y="496.00" width="16.60" height="16.60" fill="#e8882f" shape-rendering="crispEdges"/>
<rect x="942.50" y="496.00" width="16.60" height="16.60" fill="#e8882f" shape-rendering="crispEdges"/>
<rect x="958.80" y="496.00" width="16.60" height="16.60" fill="#e98d35" shape-rendering="crispEdges"/>
<rect x="893.60" y="512.30" width="16.60" height="16.60" fill="#e98e36" shape-rendering="crispEdges"/>
<rect x="909.90" y="512.30" width="16.60" height="16.60" fill="#e98c33" shape-rendering="crispEdges"/>
<rect x="926.20" y="512.30" width="16.60" height="16.60" fill="#e98a32" shape-rendering="crispEdges"/>
<rect x="942.50" y="512.30" width="16.60" height="16.60" fill="#e8862e" shape-rendering="crispEdges"/>
<rect x="958.80" y="512.30" width="16.60" height="16.60" fill="#e98d35" shape-rendering="crispEdges"/>
<rect x="893.60" y="528.60" width="16.60" height="16.60" fill="#e98d35" shape-rendering="crispEdges"/>
<rect x="909.90" y="528.60" width="16.60" height="16.60" fill="#e98c33" shape-rendering="crispEdges"/>
<rect x="926.20" y="528.60" width="16.60" height="16.60" fill="#e98c33" shape-rendering="crispEdges"/>
<rect x="942.50" y="528.60" width="16.60" height="16.60" fill="#e98c33" shape-rendering="crispEdges"/>
<rect x="958.80" y="528.60" width="16.60" height="16.60" fill="#e98d35" shape-rendering="crispEdges"/>
<rect x="894.80" y="464.60" width="78.20" height="80.40" fill="none" stroke="#000" stroke-width="3.4" stroke-dasharray="7.9 4.4"/>
<rect x="966.00" y="570.60" width="111.70" height="111.30" fill="#fff" stroke="#a9a9a9" stroke-width="2.8"/>
<rect x="981.70" y="586.30" width="16.50" height="16.50" fill="#c2b845" shape-rendering="crispEdges"/>
<rect x="997.90" y="586.30" width="16.50" height="16.50" fill="#deaa3c" shape-rendering="crispEdges"/>
<rect x="1014.10" y="586.30" width="16.50" height="16.50" fill="#e98a32" shape-rendering="crispEdges"/>
<rect x="1030.30" y="586.30" width="16.50" height="16.50" fill="#deaa3c" shape-rendering="crispEdges"/>
<rect x="1046.50" y="586.30" width="16.50" height="16.50" fill="#c2b845" shape-rendering="crispEdges"/>
<rect x="981.70" y="602.50" width="16.50" height="16.50" fill="#deaa3c" shape-rendering="crispEdges"/>
<rect x="997.90" y="602.50" width="16.50" height="16.50" fill="#e98d35" shape-rendering="crispEdges"/>
<rect x="1014.10" y="602.50" width="16.50" height="16.50" fill="#e98a32" shape-rendering="crispEdges"/>
<rect x="1030.30" y="602.50" width="16.50" height="16.50" fill="#e98a32" shape-rendering="crispEdges"/>
<rect x="1046.50" y="602.50" width="16.50" height="16.50" fill="#deaa3c" shape-rendering="crispEdges"/>
<rect x="981.70" y="618.70" width="16.50" height="16.50" fill="#e98a32" shape-rendering="crispEdges"/>
<rect x="997.90" y="618.70" width="16.50" height="16.50" fill="#e98d35" shape-rendering="crispEdges"/>
<rect x="1014.10" y="618.70" width="16.50" height="16.50" fill="#e8872f" shape-rendering="crispEdges"/>
<rect x="1030.30" y="618.70" width="16.50" height="16.50" fill="#e8872f" shape-rendering="crispEdges"/>
<rect x="1046.50" y="618.70" width="16.50" height="16.50" fill="#e98a32" shape-rendering="crispEdges"/>
<rect x="981.70" y="634.90" width="16.50" height="16.50" fill="#deaa3c" shape-rendering="crispEdges"/>
<rect x="997.90" y="634.90" width="16.50" height="16.50" fill="#e98d35" shape-rendering="crispEdges"/>
<rect x="1014.10" y="634.90" width="16.50" height="16.50" fill="#e98a32" shape-rendering="crispEdges"/>
<rect x="1030.30" y="634.90" width="16.50" height="16.50" fill="#e8872f" shape-rendering="crispEdges"/>
<rect x="1046.50" y="634.90" width="16.50" height="16.50" fill="#deaa3c" shape-rendering="crispEdges"/>
<rect x="981.70" y="651.10" width="16.50" height="16.50" fill="#c2b845" shape-rendering="crispEdges"/>
<rect x="997.90" y="651.10" width="16.50" height="16.50" fill="#deaa3c" shape-rendering="crispEdges"/>
<rect x="1014.10" y="651.10" width="16.50" height="16.50" fill="#e98a32" shape-rendering="crispEdges"/>
<rect x="1030.30" y="651.10" width="16.50" height="16.50" fill="#deaa3c" shape-rendering="crispEdges"/>
<rect x="1046.50" y="651.10" width="16.50" height="16.50" fill="#c2b845" shape-rendering="crispEdges"/>
<rect x="982.80" y="586.00" width="78.80" height="80.20" fill="none" stroke="#000" stroke-width="3.4" stroke-dasharray="7.9 4.4"/>
<rect x="1086.80" y="655.50" width="113.90" height="113.90" fill="#fff" stroke="#a9a9a9" stroke-width="3.2"/>
<rect x="1087.90" y="656.60" width="16.23" height="16.23" fill="#cdb93f" shape-rendering="crispEdges"/>
<rect x="1103.83" y="656.60" width="16.23" height="16.23" fill="#72b588" shape-rendering="crispEdges"/>
<rect x="1119.76" y="656.60" width="16.23" height="16.23" fill="#5fae9e" shape-rendering="crispEdges"/>
<rect x="1135.69" y="656.60" width="16.23" height="16.23" fill="#68b294" shape-rendering="crispEdges"/>
<rect x="1151.62" y="656.60" width="16.23" height="16.23" fill="#72b588" shape-rendering="crispEdges"/>
<rect x="1167.55" y="656.60" width="16.23" height="16.23" fill="#5fae9e" shape-rendering="crispEdges"/>
<rect x="1183.48" y="656.60" width="16.23" height="16.23" fill="#4870d0" shape-rendering="crispEdges"/>
<rect x="1087.90" y="672.53" width="16.23" height="16.23" fill="#5fae9e" shape-rendering="crispEdges"/>
<rect x="1103.83" y="672.53" width="16.23" height="16.23" fill="#98be60" shape-rendering="crispEdges"/>
<rect x="1119.76" y="672.53" width="16.23" height="16.23" fill="#b7c048" shape-rendering="crispEdges"/>
<rect x="1135.69" y="672.53" width="16.23" height="16.23" fill="#bcc046" shape-rendering="crispEdges"/>
<rect x="1151.62" y="672.53" width="16.23" height="16.23" fill="#b7c048" shape-rendering="crispEdges"/>
<rect x="1167.55" y="672.53" width="16.23" height="16.23" fill="#9cbe5c" shape-rendering="crispEdges"/>
<rect x="1183.48" y="672.53" width="16.23" height="16.23" fill="#5faea0" shape-rendering="crispEdges"/>
<rect x="1087.90" y="688.46" width="16.23" height="16.23" fill="#72b588" shape-rendering="crispEdges"/>
<rect x="1103.83" y="688.46" width="16.23" height="16.23" fill="#b7c048" shape-rendering="crispEdges"/>
<rect x="1119.76" y="688.46" width="16.23" height="16.23" fill="#e98d35" shape-rendering="crispEdges"/>
<rect x="1135.69" y="688.46" width="16.23" height="16.23" fill="#e98d35" shape-rendering="crispEdges"/>
<rect x="1151.62" y="688.46" width="16.23" height="16.23" fill="#e98d35" shape-rendering="crispEdges"/>
<rect x="1167.55" y="688.46" width="16.23" height="16.23" fill="#bcc046" shape-rendering="crispEdges"/>
<rect x="1183.48" y="688.46" width="16.23" height="16.23" fill="#6eb48c" shape-rendering="crispEdges"/>
<rect x="1087.90" y="704.39" width="16.23" height="16.23" fill="#5fae9e" shape-rendering="crispEdges"/>
<rect x="1103.83" y="704.39" width="16.23" height="16.23" fill="#b7c048" shape-rendering="crispEdges"/>
<rect x="1119.76" y="704.39" width="16.23" height="16.23" fill="#e98d35" shape-rendering="crispEdges"/>
<rect x="1135.69" y="704.39" width="16.23" height="16.23" fill="#e8862e" shape-rendering="crispEdges"/>
<rect x="1151.62" y="704.39" width="16.23" height="16.23" fill="#e98d35" shape-rendering="crispEdges"/>
<rect x="1167.55" y="704.39" width="16.23" height="16.23" fill="#b7c048" shape-rendering="crispEdges"/>
<rect x="1183.48" y="704.39" width="16.23" height="16.23" fill="#5fae9e" shape-rendering="crispEdges"/>
<rect x="1087.90" y="720.32" width="16.23" height="16.23" fill="#5caaa4" shape-rendering="crispEdges"/>
<rect x="1103.83" y="720.32" width="16.23" height="16.23" fill="#b7c048" shape-rendering="crispEdges"/>
<rect x="1119.76" y="720.32" width="16.23" height="16.23" fill="#e98d35" shape-rendering="crispEdges"/>
<rect x="1135.69" y="720.32" width="16.23" height="16.23" fill="#e98d35" shape-rendering="crispEdges"/>
<rect x="1151.62" y="720.32" width="16.23" height="16.23" fill="#e8862e" shape-rendering="crispEdges"/>
<rect x="1167.55" y="720.32" width="16.23" height="16.23" fill="#b7c048" shape-rendering="crispEdges"/>
<rect x="1183.48" y="720.32" width="16.23" height="16.23" fill="#68b294" shape-rendering="crispEdges"/>
<rect x="1087.90" y="736.25" width="16.23" height="16.23" fill="#58a8aa" shape-rendering="crispEdges"/>
<rect x="1103.83" y="736.25" width="16.23" height="16.23" fill="#9cbe5c" shape-rendering="crispEdges"/>
<rect x="1119.76" y="736.25" width="16.23" height="16.23" fill="#b7c048" shape-rendering="crispEdges"/>
<rect x="1135.69" y="736.25" width="16.23" height="16.23" fill="#b7c048" shape-rendering="crispEdges"/>
<rect x="1151.62" y="736.25" width="16.23" height="16.23" fill="#b7c048" shape-rendering="crispEdges"/>
<rect x="1167.55" y="736.25" width="16.23" height="16.23" fill="#a0be5a" shape-rendering="crispEdges"/>
<rect x="1183.48" y="736.25" width="16.23" height="16.23" fill="#72b588" shape-rendering="crispEdges"/>
<rect x="1087.90" y="752.18" width="16.23" height="16.23" fill="#5020c0" shape-rendering="crispEdges"/>
<rect x="1103.83" y="752.18" width="16.23" height="16.23" fill="#5aaaa6" shape-rendering="crispEdges"/>
<rect x="1119.76" y="752.18" width="16.23" height="16.23" fill="#66b296" shape-rendering="crispEdges"/>
<rect x="1135.69" y="752.18" width="16.23" height="16.23" fill="#66b296" shape-rendering="crispEdges"/>
<rect x="1151.62" y="752.18" width="16.23" height="16.23" fill="#78b880" shape-rendering="crispEdges"/>
<rect x="1167.55" y="752.18" width="16.23" height="16.23" fill="#60ae9c" shape-rendering="crispEdges"/>
<rect x="1183.48" y="752.18" width="16.23" height="16.23" fill="#a8c050" shape-rendering="crispEdges"/>
<rect x="1101.00" y="669.50" width="84.20" height="85.90" fill="none" stroke="#000" stroke-width="3.2" stroke-dasharray="7.9 4.4"/>
</g>
</svg></body></html>
